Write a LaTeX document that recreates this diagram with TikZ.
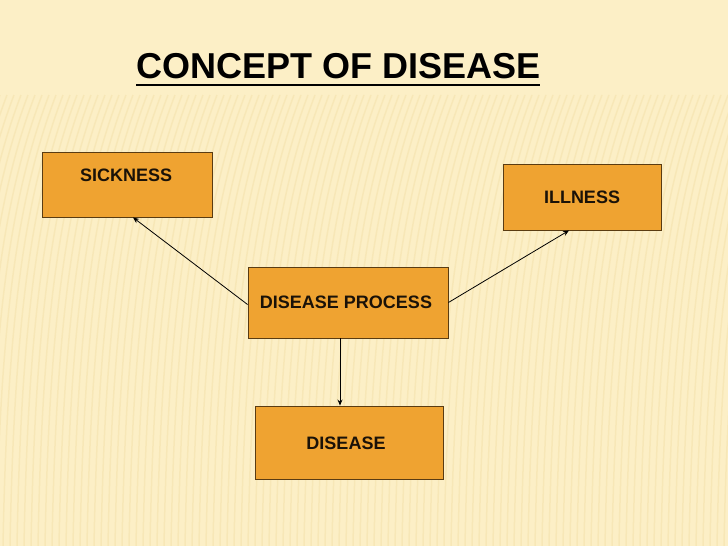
\documentclass[tikz,border=0pt]{standalone}
\usepackage{fontspec}
\setmainfont{Liberation Sans}
\usetikzlibrary{arrows.meta}
\definecolor{bgc}{HTML}{FCEFC6}
\definecolor{stripec}{HTML}{F3DFA6}
\definecolor{boxfill}{HTML}{EFA331}
\definecolor{boxline}{HTML}{5A3C12}
\definecolor{txt}{HTML}{1A1208}
\tikzset{
  box/.style={draw=boxline, line width=0.9pt, fill=boxfill, rectangle, inner sep=0pt},
  boxtext/.style={font=\fontsize{18}{20}\selectfont\bfseries, text=txt, inner sep=0pt},
  conn/.style={draw=black, line width=0.8pt, -{Stealth[length=6pt,width=5pt]}},
}
\begin{document}
\begin{tikzpicture}[x=1pt,y=-1pt]
\useasboundingbox (0,0) rectangle (728,546);
\fill[bgc] (0,0) rectangle (728,546);
% faint background stripes
\foreach \i in {-60,-53,...,735} {
  \draw[stripec, line width=1.5pt, opacity=0.45] (\i,546) .. controls (\i+4,330) and (\i+20,200) .. (\i+60,95);
}
% title
\node[font=\fontsize{36}{40}\selectfont\bfseries, text=black, inner sep=0pt, anchor=base west] (title) at (136,78) {CONCEPT OF DISEASE};
\draw[black, line width=2.6pt] ([yshift=-7pt]title.base west) -- ([yshift=-7pt]title.base east);
% boxes
\node[box, minimum width=170pt, minimum height=65pt] (sick) at (127,184.5) {};
\node[boxtext, anchor=west] (sicktxt) at (80,175) {SICKNESS};
\node[box, minimum width=158pt, minimum height=66pt] (ill) at (582,197) {};
\node[boxtext] (illtxt) at (582,197.5) {ILLNESS};
\node[box, minimum width=200pt, minimum height=71pt] (proc) at (348,302.5) {};
\node[boxtext] (proctxt) at (346,302.5) {DISEASE PROCESS};
\node[box, minimum width=188pt, minimum height=73pt] (dis) at (349,442.5) {};
\node[boxtext] (distxt) at (346,443) {DISEASE};
% connectors
\draw[conn] ([yshift=-2pt]proc.west) -- ([xshift=6pt]sick.south);
\draw[conn] (proc.east) -- ([xshift=-13pt]ill.south);
\draw[conn] ([xshift=-8pt]proc.south) -- ([xshift=-9pt]dis.north);
\end{tikzpicture}
\end{document}
